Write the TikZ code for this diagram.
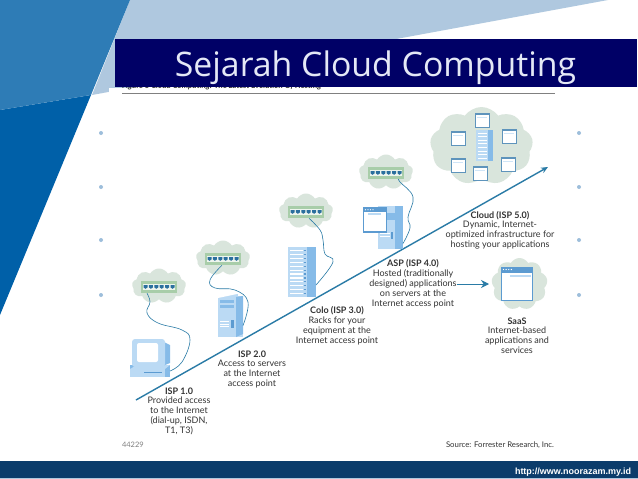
\documentclass[tikz,border=0pt]{standalone}
\usepackage{fontspec}
\setmainfont{Lato}
\newfontfamily\titlefont{Open Sans}
\newfontfamily\urlfont{Liberation Sans}
\usetikzlibrary{shapes.symbols,arrows.meta}
\definecolor{bandlight}{HTML}{AFC8DF}
\definecolor{bandmid}{HTML}{2E7CB6}
\definecolor{banddark}{HTML}{0060A8}
\definecolor{titlebox}{HTML}{000066}
\definecolor{titletext}{HTML}{E4E8F6}
\definecolor{footer}{HTML}{0B3C6B}
\definecolor{dotc}{HTML}{9DBEDB}
\definecolor{linec}{HTML}{2A7BA6}
\definecolor{cloudc}{HTML}{D9E5DC}
\definecolor{switchg}{HTML}{A8CDA9}
\definecolor{portc}{HTML}{2A6F9E}
\definecolor{devlight}{HTML}{BBDAF4}
\definecolor{devmid}{HTML}{86BBE8}
\definecolor{devdark}{HTML}{5C9BD1}
\definecolor{winedge}{HTML}{5E94BC}
\definecolor{textc}{HTML}{333333}
\tikzset{
  x=1pt,y=-1pt,
  every node/.style={inner sep=0pt,outer sep=0pt},
  bullet/.style={circle,fill=dotc,minimum size=4pt},
  smallcloud/.style={cloud,cloud puffs=9,cloud puff arc=120,aspect=1.6,fill=cloudc,minimum width=54pt,minimum height=35pt},
  switchbody/.style={fill=switchg,minimum width=36pt,minimum height=12.5pt},
  cable/.style={linec,line width=.6pt},
  main/.style={linec,line width=1.4pt,-{Stealth[length=7pt,width=6pt]}},
  lbl/.style={align=center,font=\fontsize{9}{9.9}\selectfont,text=textc,anchor=north},
  devwin/.style={fill=white,draw=winedge,line width=.8pt,minimum width=#1,minimum height=#1},
}
\newcommand\switchicon[3]{%
  \node[smallcloud] (c#1) at (#2,#3) {};
  \node[switchbody] (s#1) at ([yshift=-1pt]c#1.center) {};
  \fill[white!80!switchg] ([xshift=-16pt,yshift=3pt]s#1.center) rectangle ([xshift=16pt,yshift=-3.2pt]s#1.center);
  \foreach \k in {-2.5,-1.5,-.5,.5,1.5,2.5}
    \fill[portc] ([xshift=\k*5.4pt-2pt,yshift=1.8pt]s#1.center) -- ([xshift=\k*5.4pt+2pt,yshift=1.8pt]s#1.center) -- ([xshift=\k*5.4pt+2pt,yshift=-.4pt]s#1.center) -- ([xshift=\k*5.4pt,yshift=-1.8pt]s#1.center) -- ([xshift=\k*5.4pt-2pt,yshift=-.4pt]s#1.center) -- cycle;
}
\newcommand\appwin[4][14pt]{%
  \node[devwin=#1] (#2) at (#3,#4) {};
  \fill[winedge] (#2.north west) rectangle ([yshift=-2.2pt]#2.north east);
  \fill[devlight!70!white] ([shift={(2pt,-4pt)}]#2.north west) rectangle ([shift={(-2pt,-5.2pt)}]#2.north east);
}
\begin{document}
\begin{tikzpicture}
\useasboundingbox (0,0) rectangle (638,479);
\fill[white] (0,0) rectangle (638,479);
% background bands
\fill[bandlight] (130,0) -- (608,0) -- (92,95) -- cycle;
\fill[banddark] (0,110) -- (91,95) -- (0,315) -- cycle;
\fill[bandmid] (0,0) -- (130,0) -- (91,95) -- (0,110) -- cycle;
\fill[white] (109,88) rectangle (130,96);
% footer
\fill[footer] (0,461) rectangle (638,478);
\fill[bandlight] (0,478) rectangle (638,479);
% bullets
\foreach \i/\yy in {1/133,2/187,3/240,4/295}{
  \node[bullet] (bl\i) at (101,\yy) {};
  \node[bullet] (br\i) at (579,\yy) {};
}
% hidden caption and rule
\node[anchor=base west,font=\fontsize{8}{8}\selectfont\bfseries\itshape,text=textc] (cap) at (122,88.6) {Figure 3 Cloud Computing: The Latest Evolution Of Hosting};
\draw[gray,line width=.7pt] (122,93.2) -- (555,93.2);
% title
\fill[titlebox] (115,39) rectangle (636.5,87);
\node[anchor=base,font=\titlefont\fontsize{33.8}{34}\selectfont,text=titletext] (title) at (375.5,76) {Sejarah Cloud Computing};
% main arrow
\coordinate (arrA) at (136,400);
\coordinate (arrB) at (548,167);
\draw[main] (arrA) -- (arrB);
% switch clouds
\switchicon{one}{159}{286}
\switchicon{two}{223}{258}
\switchicon{three}{306}{211}
\switchicon{four}{386}{172}
% PC
\node[fill=devmid,minimum width=40pt,minimum height=12pt] (pcbase) at (150,371) {};
\fill[devlight] (130,377) rectangle (165,369);
\fill[devlight] (130,369) -- (137,365) -- (170,365) -- (165,369) -- cycle;
\fill[devdark] (144,372) rectangle (162,373.2);
\fill[devmid] (160,340) -- (170,345) -- (170,363) -- (160,367) -- cycle;
\fill[devlight,rounded corners=3pt] (132,339) rectangle (165,367);
\node[fill=white,rounded corners=2pt,minimum width=21pt,minimum height=19pt] (pc) at (147.5,352.5) {};
% Tower 2.0
\node[fill=devlight,minimum width=25pt,minimum height=43pt] (tw) at (230.5,315.5) {};
\fill[white] (218,294) -- (218,298) -- (237,294) -- cycle;
\fill[white] (243,294) rectangle (238,296);
\fill[devmid] (236,297) -- (243,296) -- (243,334) -- (236,337) -- cycle;
\fill[devmid] (219.5,300) rectangle (234,303.3);
\fill[devmid] (219.5,304.6) rectangle (234,308);
\fill[white] (219.5,321) rectangle (229,322);
\fill[white] (219.5,323.5) rectangle (229,324.5);
\fill[white] (219.5,326) rectangle (229,327);
\fill[devdark] (231,320) rectangle (234,328);
% Rack colo
\node[fill=devlight,minimum width=28pt,minimum height=50pt] (rk) at (302,272) {};
\fill[devmid] (307,247) rectangle (316,297);
\foreach \k in {0,...,11}{
  \fill[white] (290,{250+\k*3.9}) rectangle (303,{251.2+\k*3.9});
  \fill[devdark] (304,{250+\k*3.9}) rectangle (306,{251.2+\k*3.9});
}
% ASP server
\node[fill=devlight,minimum width=25pt,minimum height=43pt] (asptw) at (390.5,227) {};
\fill[devmid] (395,205.5) rectangle (403,248.5);
\fill[devmid] (387,213) rectangle (395,220);
\fill[white] (380,233) rectangle (390,234);
\fill[white] (380,235.5) rectangle (390,236.5);
\fill[devdark] (391,232) rectangle (393,239);
\node[fill=white,draw=devdark,line width=1.2pt,minimum width=23pt,minimum height=24pt] (aspwin) at (375,220) {};
\fill[devdark] (aspwin.north west) rectangle ([yshift=-3.5pt]aspwin.north east);
\foreach \k in {0,1,2,3} \fill[white] ({365.5+\k*2.5},209.7) circle (.6pt);
\fill[devlight] (368,213) rectangle (381,215);
% cables
\draw[cable] plot[smooth,tension=.7] coordinates {([xshift=-12pt]sone.south) (150,302) (147,313) (158,323) (182,330) (190,340) (182,362) (pcbase.east)};
\draw[cable] plot[smooth,tension=.7] coordinates {([xshift=-1pt]stwo.south) (210,280) (215,288) (235,290) (248,302) ([yshift=-10pt]tw.east)};
\draw[cable] plot[smooth,tension=.7] coordinates {([xshift=3pt]sthree.south) (320,230) (323,240) (325,254) (333,262) ([yshift=12pt]rk.south east)};
\draw[cable] plot[smooth,tension=.7] coordinates {([xshift=13pt]sfour.south) (400,182) (413,197) (408,217) (410,228) ([yshift=5pt]asptw.south east)};
% big cloud
\node[cloud,cloud puffs=9,cloud puff arc=110,aspect=1.35,fill=cloudc,minimum width=103pt,minimum height=78pt] (big) at (481.5,146) {};
\node[fill=devlight,minimum width=17pt,minimum height=31pt] (bigrack) at (484.5,145.5) {};
\fill[devmid] (488,130) rectangle (493,161);
\foreach \k in {0,...,7}
  \fill[white] (477.5,{132.5+\k*3.6}) rectangle (487,{133.4+\k*3.6});
\appwin{w1}{482}{120}
\appwin{w2}{458}{138}
\appwin{w3}{509}{136}
\appwin{w4}{458}{165}
\appwin{w5}{508}{164}
\appwin{w6}{480}{173}
% SaaS
\node[smallcloud,minimum width=56pt,minimum height=52pt,aspect=1.1] (saascloud) at (519.5,284) {};
\node[fill=white,draw=devdark,line width=1.6pt,minimum width=31pt,minimum height=33pt] (saaswin) at (517,284) {};
\fill[devdark] (saaswin.north west) rectangle ([yshift=-5pt]saaswin.north east);
\foreach \k in {0,1,2,3}
  \fill[white] ({503.5+\k*2.6},{269.5}) circle (.7pt);
\fill[devlight] (510,275) rectangle (531,277);
% labels
\node[lbl] (l1) at (179,387.5) {\textbf{ISP 1.0}\\Provided access\\to the Internet\\(dial-up, ISDN,\\T1, T3)};
\node[lbl] (l2) at (252,350.5) {\textbf{ISP 2.0}\\Access to servers\\at the Internet\\access point};
\node[lbl] (l3) at (337,306.5) {\textbf{Colo (ISP 3.0)}\\Racks for your\\equipment at the\\Internet access point};
\node[lbl] (l4) at (413,259.5) {\textbf{ASP (ISP 4.0)}\\Hosted (traditionally\\designed) applications\\on servers at the\\Internet access point};
\node[lbl] (l5) at (500,211) {\textbf{Cloud (ISP 5.0)}\\Dynamic, Internet-\\optimized infrastructure for\\hosting your applications};
\node[lbl] (l6) at (517,317.5) {\textbf{SaaS}\\Internet-based\\applications and\\services};
\coordinate (saasin) at (489,284);
\draw[linec,line width=.9pt,-{Stealth[length=8pt,width=8pt]}] (l4.east |- saasin) -- (saasin);
\node[anchor=base west,font=\fontsize{7.5}{8}\selectfont,text=gray] (num) at (122,447) {44229};
\node[anchor=base east,font=\fontsize{7.8}{8}\selectfont,text=textc] (src) at (554,447) {Source: Forrester Research, Inc.};
\node[anchor=base east,font=\urlfont\bfseries\fontsize{9}{9}\selectfont,text=white] (url) at (631,474) {http://www.noorazam.my.id};
\end{tikzpicture}
\end{document}
